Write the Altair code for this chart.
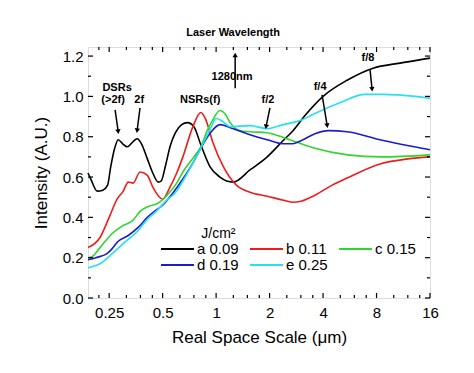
import altair as alt
import pandas as pd

FONT = "Liberation Sans"

# ---------------- data ----------------
a_x = [0.19, 0.197, 0.214, 0.23, 0.245, 0.255, 0.268, 0.281, 0.298, 0.316, 0.34, 0.359, 0.38, 0.41,
       0.44, 0.472, 0.49, 0.52, 0.55, 0.59, 0.64, 0.69, 0.75, 0.82, 0.925, 1.05, 1.25, 1.55, 1.94,
       2.38, 2.71, 3.2, 4.0, 5.46, 7.65, 10.85, 16]
a_y = [0.62, 0.59, 0.53, 0.535, 0.56, 0.65, 0.74, 0.785, 0.765, 0.75, 0.775, 0.79, 0.765, 0.69,
       0.62, 0.575, 0.58, 0.66, 0.75, 0.82, 0.86, 0.87, 0.85, 0.76, 0.65, 0.60, 0.575, 0.635, 0.70,
       0.78, 0.83, 0.91, 1.0, 1.08, 1.14, 1.165, 1.19]

b_x = [0.19, 0.222, 0.25, 0.277, 0.30, 0.32, 0.341, 0.373, 0.409, 0.44, 0.50, 0.55, 0.60, 0.65,
       0.74, 0.82, 0.87, 0.96, 1.1, 1.3, 1.55, 1.94, 2.4, 2.71, 3.0, 3.6, 4.5, 5.46, 8.37, 12, 16]
b_y = [0.25, 0.30, 0.40, 0.49, 0.53, 0.575, 0.57, 0.625, 0.61, 0.55, 0.49, 0.55, 0.62, 0.70,
       0.85, 0.92, 0.89, 0.77, 0.65, 0.56, 0.525, 0.505, 0.485, 0.475, 0.48, 0.51, 0.56, 0.595,
       0.665, 0.69, 0.70]

c_x = [0.19, 0.20, 0.222, 0.26, 0.30, 0.34, 0.373, 0.42, 0.47, 0.53, 0.60, 0.65, 0.75, 0.82, 0.89,
       0.96, 1.05, 1.13, 1.2, 1.37, 1.55, 1.94, 2.5, 3.51, 5.5, 8.5, 16]
c_y = [0.20, 0.205, 0.25, 0.32, 0.36, 0.385, 0.43, 0.455, 0.47, 0.51, 0.57, 0.625, 0.70, 0.75, 0.83,
       0.885, 0.93, 0.91, 0.87, 0.83, 0.825, 0.82, 0.79, 0.745, 0.71, 0.70, 0.71]

d_x = [0.19, 0.21, 0.243, 0.26, 0.28, 0.32, 0.364, 0.41, 0.45, 0.50, 0.57, 0.65, 0.73, 0.81, 0.93,
       1.05, 1.25, 1.55, 1.94, 2.38, 2.7, 3.0, 3.6, 4.3, 5.46, 8.37, 16]
d_y = [0.19, 0.20, 0.22, 0.245, 0.28, 0.31, 0.35, 0.40, 0.43, 0.46, 0.52, 0.59, 0.66, 0.735, 0.82,
       0.86, 0.84, 0.81, 0.785, 0.765, 0.765, 0.78, 0.815, 0.83, 0.825, 0.785, 0.735]

e_x = [0.19, 0.20, 0.222, 0.26, 0.30, 0.36, 0.41, 0.46, 0.52, 0.60, 0.65, 0.81, 0.93, 1.0, 1.07,
       1.2, 1.55, 1.94, 2.38, 2.97, 3.5, 5.0, 6.89, 8.6, 13.2, 16]
e_y = [0.15, 0.155, 0.17, 0.22, 0.27, 0.33, 0.39, 0.43, 0.48, 0.53, 0.58, 0.735, 0.84, 0.89, 0.88,
       0.85, 0.855, 0.84, 0.86, 0.88, 0.91, 0.97, 1.01, 1.01, 1.0, 0.99]

series_names = ["a 0.09", "b 0.11", "c 0.15", "d 0.19", "e 0.25"]
series_colors = ["#000000", "#ee1c1c", "#2ed62e", "#1c1ccc", "#26e0f0"]

x_ticks = [0.25, 0.5, 1, 2, 4, 8, 16]
y_ticks = [0.0, 0.2, 0.4, 0.6, 0.8, 1.0, 1.2]

# annotations
ann_text = ["Laser Wavelength", "1280nm", "DSRs", "(>2f)", "2f", "NSRs(f)", "f/2", "f/4", "f/8"]
ann_x = [1.246, 1.23, 0.277, 0.263, 0.369, 0.813, 1.96, 3.85, 7.16]
ann_y = [1.315, 1.095, 1.04, 0.983, 0.983, 0.983, 0.983, 1.047, 1.19]

arr_x = [0.270, 0.373, 2.01, 3.95, 7.36, 1.28]
arr_x2 = [0.281, 0.359, 1.91, 4.22, 7.55, 1.28]
arr_y = [0.933, 0.943, 0.943, 1.007, 1.13, 1.04]
arr_y2 = [0.825, 0.830, 0.850, 0.855, 1.035, 1.205]
arr_shape = ["triangle-down"] * 5 + ["triangle-up"]
arr_angle = [353, 7, 11, 351, 354, 0]

# ---------------- frames ----------------
rows = []
for name, xs, ys in zip(series_names, [a_x, b_x, c_x, d_x, e_x], [a_y, b_y, c_y, d_y, e_y]):
    for xv, yv in zip(xs, ys):
        rows.append({"series": name, "x": xv, "y": yv})
df = pd.DataFrame(rows)

minor_x = [m * f for m in [0.125, 0.25, 0.5, 1, 2, 4, 8] for f in (1.25, 1.5, 1.75)]
minor_x = [v for v in minor_x if 0.19 < v < 16]
minor_y = [0.1, 0.3, 0.5, 0.7, 0.9, 1.1]

W, H = 342, 251
XS = alt.Scale(type="log", base=2, domain=[0.19, 16], nice=False)
YS = alt.Scale(domain=[0, 1.245], nice=False, zero=False)

lines = alt.Chart(df).mark_line(strokeWidth=1.6, interpolate="monotone").encode(
    x=alt.X("x:Q", scale=XS, axis=alt.Axis(
        values=x_ticks, format="~g", title="Real Space Scale (μm)", grid=False, ticks=False,
        domain=False, tickSize=0, labelPadding=7, titlePadding=9, labelFontSize=15,
        titleFontSize=17, titleFontWeight="normal", labelColor="black", titleColor="black",
        labelFont=FONT, titleFont=FONT, labelFlush=False)),
    y=alt.Y("y:Q", scale=YS, axis=alt.Axis(
        values=y_ticks, format=".1f", title="Intensity (A.U.)", grid=False, ticks=False,
        domain=False, tickSize=0, labelPadding=5, titlePadding=12, labelFontSize=15,
        titleFontSize=17, titleFontWeight="normal", labelColor="black", titleColor="black",
        labelFont=FONT, titleFont=FONT, labelFlush=False)),
    color=alt.Color("series:N", scale=alt.Scale(domain=series_names, range=series_colors),
                    legend=alt.Legend(
                        title=None, orient="none", direction="horizontal",
                        legendX=72, legendY=194, columns=3,
                        symbolType="stroke", symbolSize=1089, symbolStrokeWidth=2,
                        labelFontSize=15, labelFont=FONT, labelColor="black", labelOffset=2,
                        columnPadding=10, rowPadding=0, clipHeight=16, padding=0)),
    order=alt.Order("x:Q"),
)

def tick_layer(vals, axis, side, length):
    d = pd.DataFrame({"v": vals})
    base = alt.Chart(d).mark_rule(color="black", strokeWidth=1.2)
    if axis == "x":
        if side == "bottom":
            return base.encode(x=alt.X("v:Q", scale=XS), y=alt.value(H), y2=alt.value(H - length))
        return base.encode(x=alt.X("v:Q", scale=XS), y=alt.value(0), y2=alt.value(length))
    if side == "left":
        return base.encode(y=alt.Y("v:Q", scale=YS), x=alt.value(0), x2=alt.value(length))
    return base.encode(y=alt.Y("v:Q", scale=YS), x=alt.value(W), x2=alt.value(W - length))

ticks = [
    tick_layer(x_ticks, "x", "bottom", 5), tick_layer(x_ticks, "x", "top", 5),
    tick_layer(minor_x, "x", "bottom", 3), tick_layer(minor_x, "x", "top", 3),
    tick_layer(y_ticks, "y", "left", 5), tick_layer(y_ticks, "y", "right", 5),
    tick_layer(minor_y, "y", "left", 3), tick_layer(minor_y, "y", "right", 3),
]

ann_df = pd.DataFrame({"t": ann_text, "x": ann_x, "y": ann_y})
arr_df = pd.DataFrame({"x": arr_x, "x2": arr_x2, "y": arr_y, "y2": arr_y2,
                       "shape": arr_shape, "angle": arr_angle})

texts = alt.Chart(ann_df).mark_text(font=FONT, fontSize=11, fontWeight="bold", color="black",
                                    align="center", baseline="middle").encode(
    x=alt.X("x:Q", scale=XS), y=alt.Y("y:Q", scale=YS), text="t:N")

shafts = alt.Chart(arr_df).mark_rule(color="black", strokeWidth=1.5).encode(
    x=alt.X("x:Q", scale=XS), x2="x2:Q", y=alt.Y("y:Q", scale=YS), y2="y2:Q")

heads = alt.Chart(arr_df).mark_point(filled=True, color="black", size=28, opacity=1).encode(
    x=alt.X("x2:Q", scale=XS), y=alt.Y("y2:Q", scale=YS),
    shape=alt.Shape("shape:N", scale=None), angle=alt.Angle("angle:Q", scale=None))

unit_df = pd.DataFrame({"t": ["J/cm²"], "x": [1.03], "y": [0.318]})
unit = alt.Chart(unit_df).mark_text(font=FONT, fontSize=14, color="black",
                                    align="center", baseline="middle").encode(
    x=alt.X("x:Q", scale=XS), y=alt.Y("y:Q", scale=YS), text="t:N")

chart = alt.layer(lines, *ticks, shafts, heads, texts, unit).properties(
    width=W, height=H,
    autosize=alt.AutoSizeParams(type="none"),
    padding={"left": 80, "top": 39, "right": 36, "bottom": 67},
).configure_view(stroke="black", strokeWidth=1.5).configure(background="white")

chart.save("out.html", embed_options={"renderer": "svg", "actions": False})
